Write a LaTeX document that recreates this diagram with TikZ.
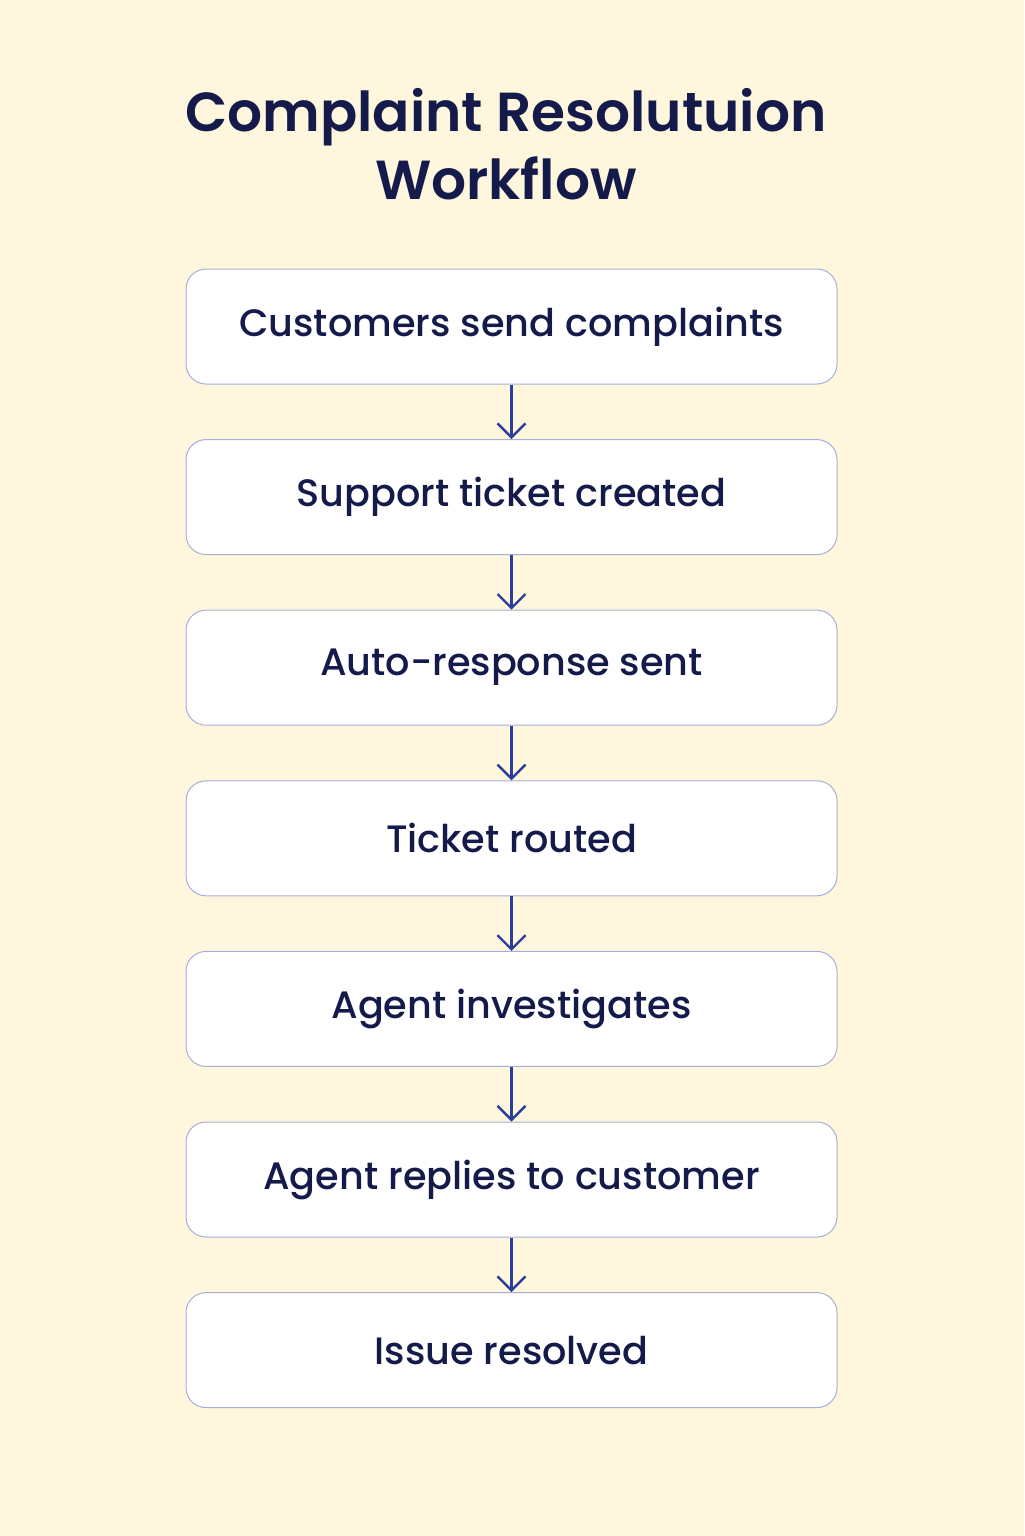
\documentclass[tikz,border=0pt]{standalone}
\usepackage{fontspec}
\setmainfont{Poppins}[BoldFont={* SemiBold}]
\newfontfamily\stagefont{Poppins Medium}
\usepackage{tikz}
\usetikzlibrary{positioning}
\usetikzlibrary{arrows.meta}

\definecolor{bgCream}{HTML}{FEF7DE}
\definecolor{inkNavy}{HTML}{141B4B}
\definecolor{edgeLilac}{HTML}{A7AEDC}
\definecolor{arrowBlue}{HTML}{2B3F9A}

\tikzset{
	stage/.style={
		draw=edgeLilac,
		fill=white,
		line width=0.5pt,
		rounded corners=10pt,
		minimum width=325.5pt,
		minimum height=57.5pt,
		text=inkNavy,
		font=\stagefont\fontsize{19.1}{22}\selectfont
	},
	flow/.style={
		draw=arrowBlue,
		line width=1.2pt,
		-{Straight Barb[length=7pt,width=14pt,line width=1.2pt]}
	}
}

\begin{document}
\begin{tikzpicture}[x=0.5pt,y=-0.5pt, node distance=27.3pt]
\fill[bgCream] (0,0) rectangle (1024,1536);
\useasboundingbox (0,0) rectangle (1024,1536);

\node[
	text=inkNavy,
	align=center,
	font=\fontsize{27.5}{34}\selectfont\bfseries
] (title) at (506,144) {Complaint Resolutuion\\Workflow};

\node[stage] (complaints) at (511.5,326.5) {Customers send complaints};
\node[stage, below=of complaints] (ticket) {Support ticket created};
\node[stage, below=of ticket] (autoresponse) {Auto-response sent};
\node[stage, below=of autoresponse] (routed) {Ticket routed};
\node[stage, below=of routed] (investigates) {Agent investigates};
\node[stage, below=of investigates] (replies) {Agent replies to customer};
\node[stage, below=of replies] (resolved) {Issue resolved};

% ---

\draw[flow] (complaints) -- (ticket);
\draw[flow] (ticket) -- (autoresponse);
\draw[flow] (autoresponse) -- (routed);
\draw[flow] (routed) -- (investigates);
\draw[flow] (investigates) -- (replies);
\draw[flow] (replies) -- (resolved);

\end{tikzpicture}
\end{document}
